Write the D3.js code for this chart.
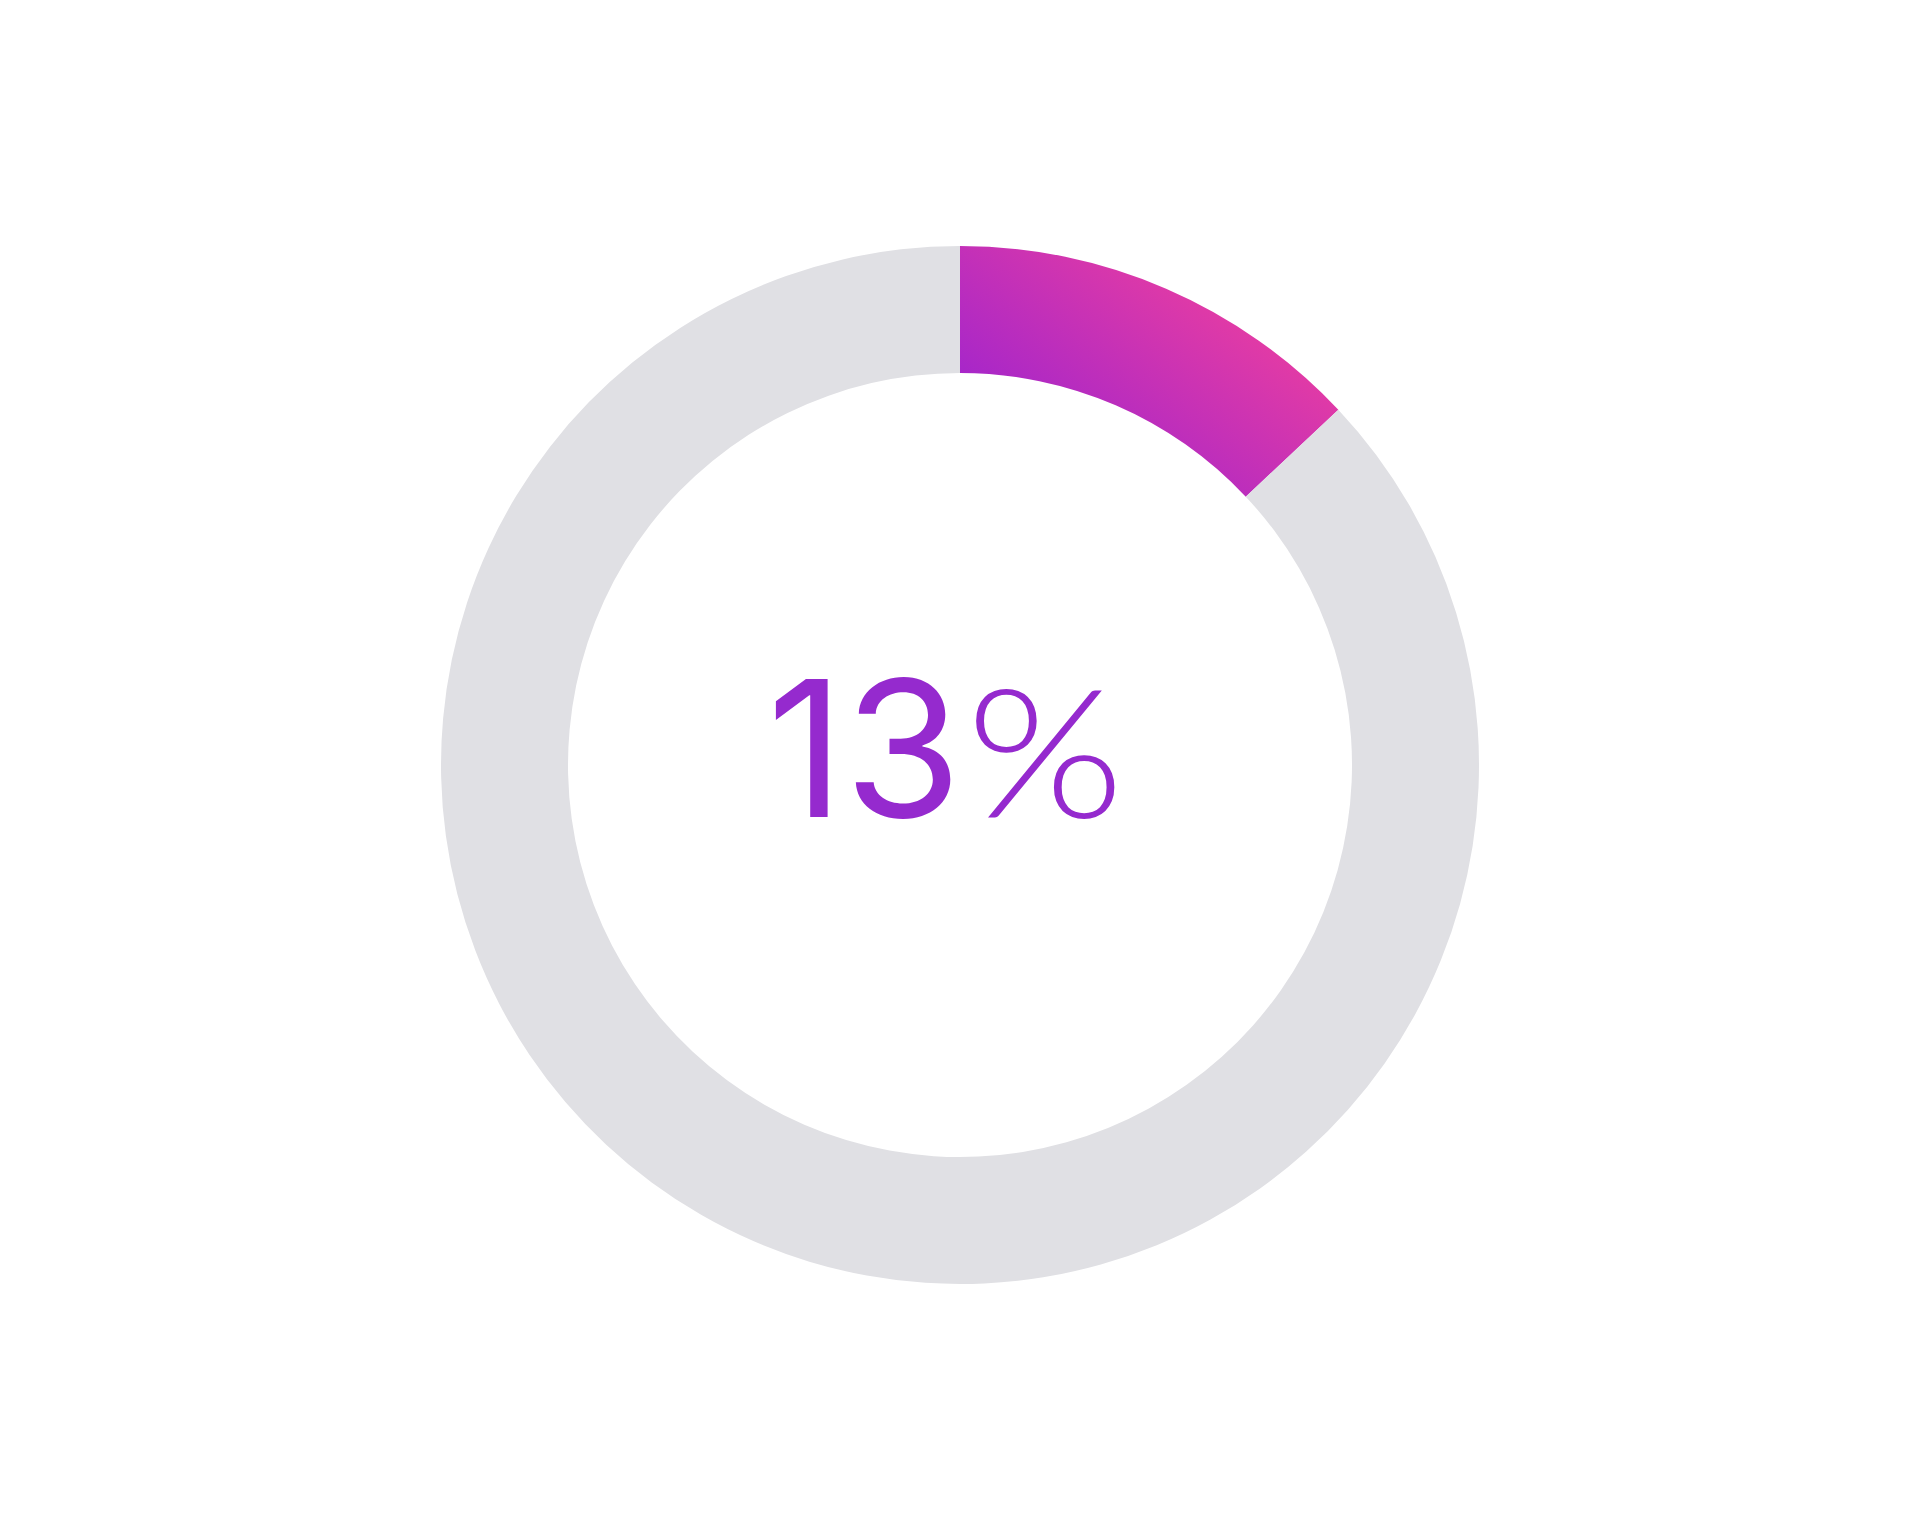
<!DOCTYPE html>
<html lang="en">
<head>
    <meta charset="UTF-8">
    <title>13% donut</title>
    <script src="https://cdn.jsdelivr.net/npm/d3@7"></script>
    <style>
        body {
            margin: 0;
            background-color: #ffffff;
        }
        svg {
            display: block;
        }
    </style>
</head>
<body>
    <svg></svg>
    <script>
        // share shown, and the rest of the ring
        const categories = ["share", "rest"];
        const values = [13, 87];
        const centerLabel = ["13", "%"];

        const width = 1920;
        const height = 1532;
        const cx = 960, cy = 765;
        const outerR = 519, innerR = 392;

        const svg = d3.select("svg")
            .attr("width", width)
            .attr("height", height);

        // gradient coords are relative to the ring centre (the group is translated)
        const defs = svg.append("defs");
        const grad = defs.append("linearGradient")
            .attr("id", "arcGrad")
            .attr("gradientUnits", "userSpaceOnUse")
            .attr("x1", 174).attr("y1", -227)
            .attr("x2", 327).attr("y2", -428);
        grad.append("stop").attr("offset", "0%").attr("stop-color", "#a024cd");
        grad.append("stop").attr("offset", "100%").attr("stop-color", "#e63ca3");

        const colors = d3.scaleOrdinal()
            .domain(categories)
            .range(["url(#arcGrad)", "#e0e0e4"]);

        const pie = d3.pie().sort(null).value(d => d.value);
        const arc = d3.arc().innerRadius(innerR).outerRadius(outerR);

        const data = categories.map((c, i) => ({ name: c, value: values[i] }));

        const g = svg.append("g").attr("transform", `translate(${cx},${cy})`);

        g.selectAll("path")
            .data(pie(data))
            .enter().append("path")
            .attr("d", arc)
            .attr("fill", d => colors(d.data.name));

        // number
        svg.append("text")
            .attr("x", 767)
            .attr("y", 817)
            .attr("fill", "#952ace")
            .style("font-family", "Inter, 'Open Sans', sans-serif")
            .attr("font-size", 190)
            .attr("font-weight", 400)
            .text(centerLabel[0]);

        // percent sign, light and a bit wider
        svg.append("text")
            .attr("transform", "translate(966,817) scale(1.13,1)")
            .attr("fill", "#952ace")
            .style("font-family", "Lato, 'Open Sans', sans-serif")
            .attr("font-size", 180)
            .attr("font-weight", 300)
            .text(centerLabel[1]);
    </script>
</body>
</html>
